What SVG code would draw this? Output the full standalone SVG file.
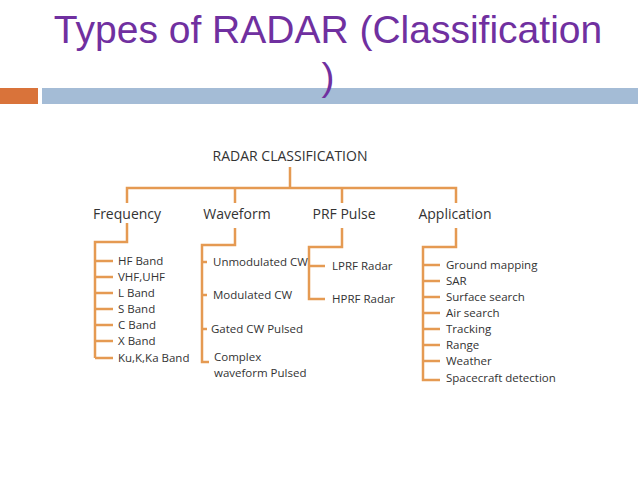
<svg xmlns="http://www.w3.org/2000/svg" width="638" height="478" viewBox="0 0 638 478">
<style>
.t{font-family:"Liberation Sans",Arial,sans-serif;fill:#7030A0;font-size:39px}
.h{font-family:"Open Sans","Liberation Sans",sans-serif;fill:#333;font-size:14px}
.s{font-family:"Open Sans","Liberation Sans",sans-serif;fill:#333;font-size:11.5px}
.c{fill:none;stroke:#E59A52;stroke-width:2.5}
</style>
<rect width="638" height="478" fill="#fff"/>
<rect x="0" y="88" width="38" height="16" fill="#D9733A"/>
<rect x="42" y="88" width="596" height="16" fill="#A4BCD6"/>
<text class="t" x="328" y="43" text-anchor="middle">Types of RADAR (Classification</text>
<text class="t" x="328" y="90" text-anchor="middle">)</text>
<g id="connectors" class="c">
<path d="M290 167V188M127 203V188H456V203M235 188V203M342 188V203"/>
<path d="M127 223V242H95V358M95 261H113M95 277H113M95 293H113M95 309H113M95 325H113M95 341H113M95 358H113"/>
<path d="M235 228V245H202V362H209M202 262H207M202 295H207M202 329H207"/>
<path d="M342 228V247H309V299H325M309 266H325"/>
<path d="M456 228V247H423V380H440M423 265H440M423 281H440M423 297H440M423 313H440M423 329H440M423 345H440M423 361H440"/>
</g>
<g id="root"><text class="h" x="290" y="161" text-anchor="middle">RADAR CLASSIFICATION</text></g>
<g id="frequency"><text class="h" x="127" y="219" text-anchor="middle">Frequency</text></g>
<g id="waveform"><text class="h" x="237" y="219" text-anchor="middle">Waveform</text></g>
<g id="prf"><text class="h" x="344" y="219" text-anchor="middle">PRF Pulse</text></g>
<g id="application"><text class="h" x="455" y="219" text-anchor="middle">Application</text></g>
<g id="freq-items" class="s">
<text x="118" y="265">HF Band</text><text x="118" y="281">VHF,UHF</text><text x="118" y="297">L Band</text><text x="118" y="313">S Band</text><text x="118" y="329">C Band</text><text x="118" y="345">X Band</text><text x="118" y="362">Ku,K,Ka Band</text>
</g>
<g id="wave-items" class="s">
<text x="213" y="266">Unmodulated CW</text><text x="213" y="299">Modulated CW</text><text x="211" y="333">Gated CW Pulsed</text><text x="214" y="361">Complex</text><text x="214" y="377">waveform Pulsed</text>
</g>
<g id="prf-items" class="s"><text x="332" y="270">LPRF Radar</text><text x="332" y="303">HPRF Radar</text></g>
<g id="app-items" class="s">
<text x="446" y="269">Ground mapping</text><text x="446" y="285">SAR</text><text x="446" y="301">Surface search</text><text x="446" y="317">Air search</text><text x="446" y="333">Tracking</text><text x="446" y="349">Range</text><text x="446" y="365">Weather</text><text x="446" y="382">Spacecraft detection</text>
</g>
</svg>
